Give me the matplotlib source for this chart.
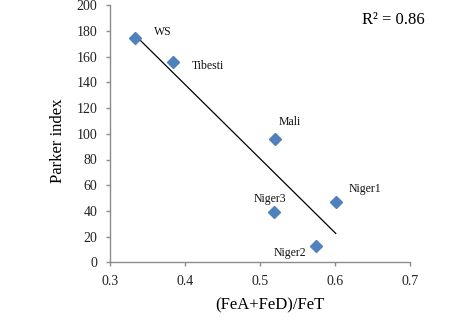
import numpy as np
import matplotlib
matplotlib.use("Agg")
import matplotlib.pyplot as plt

plt.rcParams['font.family'] = ['Liberation Serif', 'DejaVu Serif']

labels = ["WS", "Tibesti", "Mali", "Niger3", "Niger1", "Niger2"]
ratio = [0.333, 0.384, 0.520, 0.518, 0.601, 0.574]
parker = [174.5, 155.9, 95.7, 39.1, 46.7, 12.7]
xticks = [0.3, 0.4, 0.5, 0.6, 0.7]
yticks = [0, 20, 40, 60, 80, 100, 120, 140, 160, 180, 200]
r2_text = "R² = 0.86"

# label offsets in points and alignment (style)
offsets = {
    "WS": ((13.5, 4.3), 'left'),
    "Tibesti": ((13.5, -2.9), 'left'),
    "Mali": ((2.4, 12.7), 'left'),
    "Niger3": ((-2.6, 9.1), 'center'),
    "Niger1": ((8.9, 9.6), 'left'),
    "Niger2": ((-6.7, -4.8), 'right'),
}

fig = plt.figure(figsize=(4.74, 3.26), dpi=100)
ax = fig.add_axes([110/474, 1-262.3/326, 300/474, 257/326])

x = np.array(ratio)
y = np.array(parker)
coef = np.polyfit(x, y, 1)
xl = np.array([x.min(), x.max()])
ax.plot(xl, np.polyval(coef, xl), color='black', lw=0.9, zorder=2)

ax.plot(x, y, linestyle='none', marker='D', markersize=6.2,
        color='#4F81BD', markeredgecolor='#4F81BD', zorder=3)

for lab, xi, yi in zip(labels, x, y):
    off, ha = offsets[lab]
    ax.annotate(lab, (xi, yi), xytext=off, textcoords='offset points',
                ha=ha, va='center', fontsize=8.5, color='#111111')

ax.set_xlim(0.3, 0.7)
ax.set_ylim(0, 200)
ax.set_xticks(xticks)
ax.set_xticklabels([f"{t:.1f}" for t in xticks])
ax.set_yticks(yticks)
ax.set_yticklabels([str(t) for t in yticks])

for s in ['top', 'right']:
    ax.spines[s].set_visible(False)
for s in ['left', 'bottom']:
    ax.spines[s].set_color('#8c8c8c')
    ax.spines[s].set_linewidth(1.0)

ax.tick_params(axis='both', direction='out', length=3, width=1.0,
               color='#8c8c8c', labelsize=10, labelcolor='#222222')
ax.tick_params(axis='x', pad=6)
ax.tick_params(axis='y', pad=6)

ax.set_xlabel("(FeA+FeD)/FeT", fontsize=12, va='center', ha='center')
ax.xaxis.set_label_coords(0.533, (262.3-305)/257)
ax.set_ylabel("Parker index", fontsize=12, va='center', ha='center')
ax.yaxis.set_label_coords((58-110)/300, (262.3-141)/257)

fig.text(362/474, 1-20/326, r2_text, fontsize=12, ha='left', va='center')

fig.savefig("out.png", dpi=100)
